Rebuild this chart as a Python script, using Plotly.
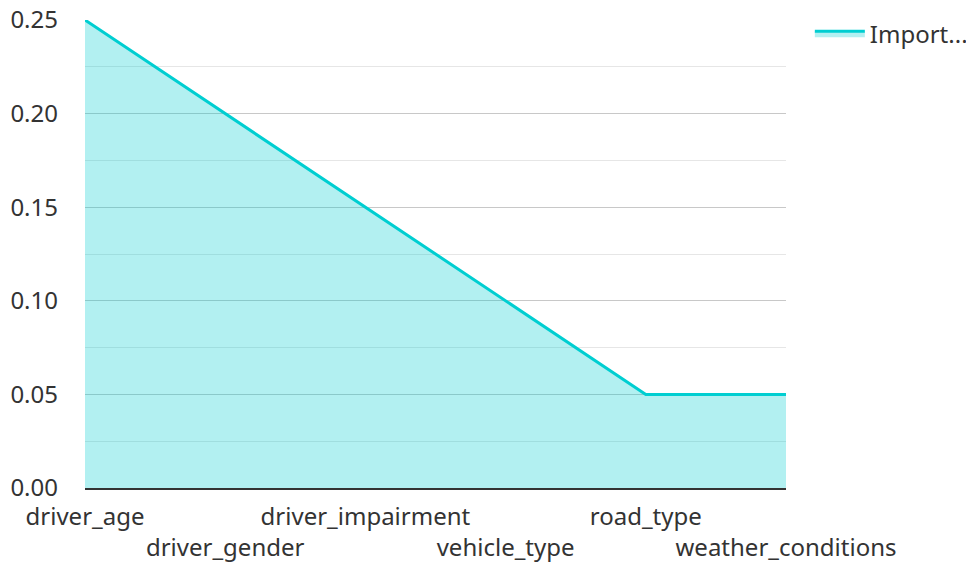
import plotly.graph_objects as go

categories = ["driver_age", "driver_gender", "driver_impairment", "vehicle_type", "road_type", "weather_conditions"]
importance = [0.25, 0.20, 0.15, 0.10, 0.05, 0.05]
series_name = "Import..."

ticktext = [c if i % 2 == 0 else "<br>" + c for i, c in enumerate(categories)]

fig = go.Figure()
fig.add_trace(go.Scatter(
    x=list(range(len(categories))), y=importance, name=series_name,
    mode="lines", line=dict(color="#00CED1", width=3),
    fill="tozeroy", fillcolor="rgba(0,206,209,0.3)",
))

fig.update_layout(
    width=966, height=554,
    margin=dict(l=77, r=188, t=12, b=74, autoexpand=False),
    paper_bgcolor="white", plot_bgcolor="white",
    font=dict(family="Noto Sans", size=24, color="#333"),
    showlegend=True,
    legend=dict(x=1.034, y=1.019, xanchor="left", yanchor="top",
                font=dict(size=24, color="#333"), itemwidth=50),
)
fig.update_xaxes(
    range=[0, len(categories) - 1], tickmode="array",
    tickvals=list(range(len(categories))), ticktext=ticktext,
    showgrid=False, showline=True, linecolor="#333", linewidth=2,
    ticks="", tickangle=0, zeroline=False, automargin=False,
    ticklabelstandoff=6, ticklabeloverflow="allow",
)
fig.update_yaxes(
    range=[0, 0.25], dtick=0.05, tickformat=".2f",
    showgrid=True, gridcolor="#c8c8c8", gridwidth=1,
    minor=dict(dtick=0.025, showgrid=True, gridcolor="#e6e6e6", gridwidth=1),
    zeroline=False, showline=False, ticks="", ticklabelstandoff=26,
    automargin=False, ticklabeloverflow="allow",
)

fig.write_html("out.html")
